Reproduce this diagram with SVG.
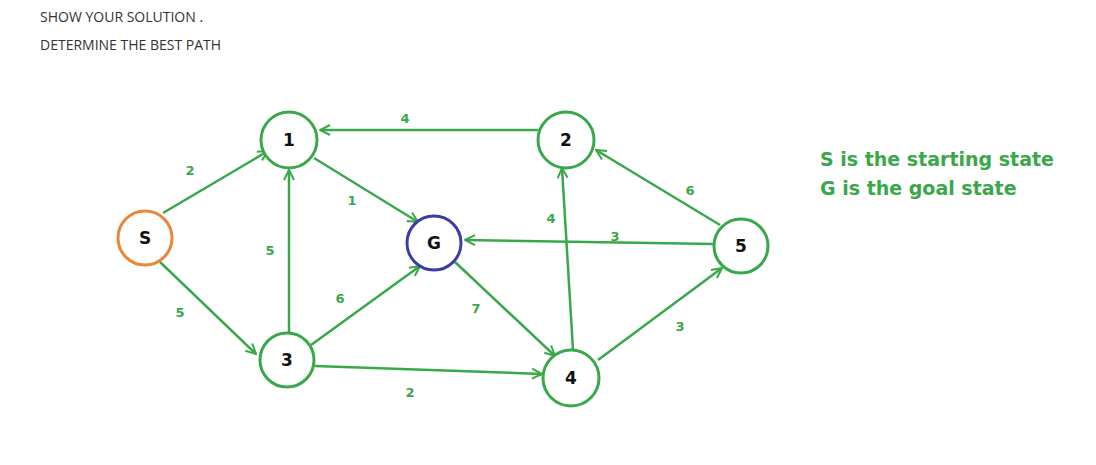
<svg xmlns="http://www.w3.org/2000/svg" width="1096" height="465" viewBox="0 0 1096 465">
<style>
.hd{font-family:"Open Sans",sans-serif;font-size:14px;fill:#333}
.n{fill:#fff;stroke:#3aa84a;stroke-width:3}
.nl{font-family:"DejaVu Sans",sans-serif;font-weight:bold;font-size:17px;fill:#111;text-anchor:middle;dominant-baseline:central}
.e{stroke:#3aa84a;stroke-width:2.5;fill:none;marker-end:url(#a)}
.el{font-family:"DejaVu Sans",sans-serif;font-weight:bold;font-size:13px;fill:#3aa84a;text-anchor:middle;dominant-baseline:central}
.lg{font-family:"DejaVu Sans",sans-serif;font-weight:bold;font-size:19px;fill:#3aa84a}
</style>
<defs><marker id="a" viewBox="0 0 12 12" refX="11" refY="6" markerWidth="12" markerHeight="12" markerUnits="userSpaceOnUse" orient="auto"><path d="M1,1 L11,6 L1,11" fill="none" stroke="#3aa84a" stroke-width="2"/></marker></defs>
<rect width="1096" height="465" fill="#fff"/>
<text class="hd" x="40" y="22">SHOW YOUR SOLUTION .</text>
<text class="hd" x="40" y="50">DETERMINE THE BEST PATH</text>
<g id="connectors">
<line class="e" x1="163" y1="213" x2="268" y2="151"/><text class="el" x="190" y="170">2</text>
<line class="e" x1="160" y1="262" x2="256" y2="354"/><text class="el" x="180" y="312">5</text>
<line class="e" x1="289" y1="332" x2="289" y2="170"/><text class="el" x="270" y="250">5</text>
<line class="e" x1="314" y1="158" x2="418" y2="222"/><text class="el" x="352" y="200">1</text>
<line class="e" x1="311" y1="345" x2="420" y2="266"/><text class="el" x="340" y="298">6</text>
<line class="e" x1="538" y1="130" x2="320" y2="130"/><text class="el" x="405" y="118">4</text>
<line class="e" x1="455" y1="262" x2="555" y2="356"/><text class="el" x="476" y="308">7</text>
<line class="e" x1="315" y1="366" x2="542" y2="374"/><text class="el" x="410" y="392">2</text>
<line class="e" x1="573" y1="350" x2="562" y2="168"/><text class="el" x="551" y="218">4</text>
<line class="e" x1="714" y1="244" x2="465" y2="240"/><text class="el" x="615" y="236">3</text>
<line class="e" x1="720" y1="225" x2="596" y2="150"/><text class="el" x="690" y="190">6</text>
<line class="e" x1="598" y1="360" x2="722" y2="268"/><text class="el" x="680" y="326">3</text>
</g>
<g id="S"><circle class="n" cx="145" cy="238" r="27" style="stroke:#e8883a"/><text class="nl" x="145" y="238">S</text></g>
<g id="n1"><circle class="n" cx="289" cy="140" r="28"/><text class="nl" x="289" y="140">1</text></g>
<g id="G"><circle class="n" cx="434" cy="243" r="27" style="stroke:#3c3ca8"/><text class="nl" x="434" y="243">G</text></g>
<g id="n2"><circle class="n" cx="566" cy="140" r="28"/><text class="nl" x="566" y="140">2</text></g>
<g id="n5"><circle class="n" cx="741" cy="246" r="27"/><text class="nl" x="741" y="246">5</text></g>
<g id="n3"><circle class="n" cx="287" cy="360" r="27"/><text class="nl" x="287" y="360">3</text></g>
<g id="n4"><circle class="n" cx="571" cy="378" r="28"/><text class="nl" x="571" y="378">4</text></g>
<text class="lg" x="820" y="166">S is the starting state</text>
<text class="lg" x="820" y="195">G is the goal state</text>
</svg>
